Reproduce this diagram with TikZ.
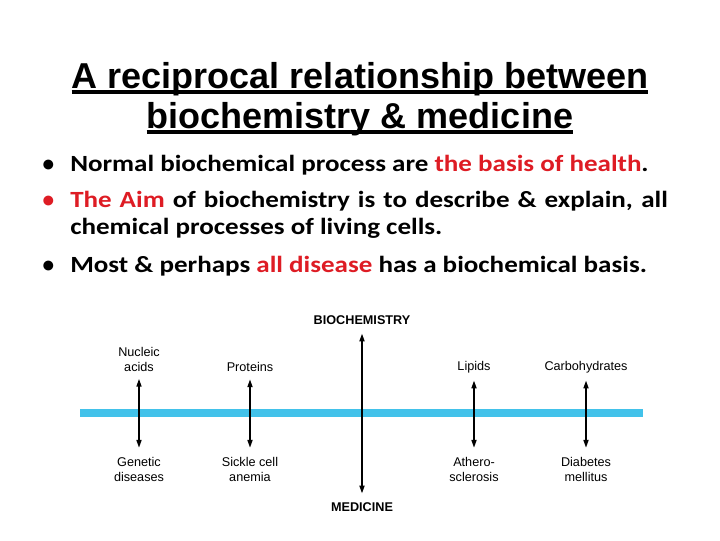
\documentclass[tikz,border=0pt]{standalone}
\usepackage{fontspec}
\setmainfont{Liberation Sans}
\newfontfamily\bulletfont[FakeStretch=1.165]{Carlito}
\newfontfamily\dotfont{Carlito}
\usetikzlibrary{positioning,calc,arrows.meta}
\definecolor{accentred}{RGB}{222,28,36}
\definecolor{axisblue}{RGB}{66,194,234}
\tikzset{
  titleline/.style={inner sep=0pt,anchor=base,font=\fontsize{25.6}{30}\selectfont\bfseries},
  bullettext/.style={inner sep=0pt,anchor=base west,font=\bulletfont\fontsize{16.5}{20}\selectfont\bfseries},
  bulletdot/.style={inner sep=0pt,anchor=base,font=\dotfont\fontsize{16.5}{20}\selectfont\bfseries},
  smalllabel/.style={inner sep=1pt,align=center,font=\fontsize{9}{10.7}\selectfont},
  biglabel/.style={inner sep=1pt,font=\fontsize{9}{10}\selectfont\bfseries},
  linkarrow/.style={line width=1.4pt,{Triangle[length=5.8pt,width=3.4pt]}-{Triangle[length=5.8pt,width=3.4pt]}}
}
\begin{document}
\begin{tikzpicture}[x=0.025cm,y=-0.025cm]
        \useasboundingbox[fill=white] (0,0) rectangle (720,540);

        % title
        \node[titleline] (title1) at (360,88) {A reciprocal relationship between};
        \node[titleline] (title2) at (360,128) {biochemistry \& medicine};
        \draw[line width=2.2pt] ($(title1.base west)+(0,4)$) -- ($(title1.base east)+(0,4)$);
        \draw[line width=2.2pt] ($(title2.base west)+(0,4)$) -- ($(title2.base east)+(0,4)$);

        % bullets
        \node[bulletdot] (dot1) at (48.5,171) {•};
        \node[bullettext] (point1) at (70,171) {Normal biochemical process are \textcolor{accentred}{the basis of health}.};
        \node[bulletdot,text=accentred] (dot2) at (48.5,207) {•};
        \node[bullettext] (point2) at (70,207) {\makebox[425pt][s]{\textcolor{accentred}{The Aim} of biochemistry is to describe \& explain, all}};
        \node[bullettext] (point2b) at (70,234) {chemical processes of living cells.};
        \node[bulletdot] (dot3) at (48.5,272) {•};
        \node[bullettext] (point3) at (70,272) {Most \& perhaps \textcolor{accentred}{all disease} has a biochemical basis.};

        % axis
        \coordinate (axisleft) at (80,413);
        \coordinate (axisright) at (643,413);
        \draw[axisblue,line width=5pt] (axisleft) -- (axisright);

        % labels
        \node[biglabel] (biochem) at (362,320) {BIOCHEMISTRY};
        \node[biglabel] (medicine) at (362,507) {MEDICINE};
        \node[smalllabel] (nucleic) at (139,359) {Nucleic\\acids};
        \node[smalllabel] (proteins) at (250,367) {Proteins};
        \node[smalllabel] (lipids) at (474,367) {Lipids};
        \node[smalllabel] (carbs) at (586,367) {Carbohydrates};
        \node[smalllabel] (genetic) at (139,469) {Genetic\\diseases};
        \node[smalllabel] (sickle) at (250,469) {Sickle cell\\anemia};
        \node[smalllabel] (athero) at (474,469) {Athero-\\sclerosis};
        \node[smalllabel] (diabetes) at (586,469) {Diabetes\\mellitus};

        % arrows
        \draw[linkarrow,line width=2pt,shorten <=5pt,shorten >=5pt] (biochem) -- (medicine);
        \draw[linkarrow,shorten <=4pt,shorten >=5pt] (nucleic) -- (genetic);
        \draw[linkarrow,shorten <=4pt,shorten >=5pt] (proteins.south) -- (sickle.north);
        \draw[linkarrow,shorten <=4pt,shorten >=5pt] (lipids.south) -- (athero.north);
        \draw[linkarrow,shorten <=4pt,shorten >=5pt] (carbs.south) -- (diabetes.north);
\end{tikzpicture}
\end{document}
